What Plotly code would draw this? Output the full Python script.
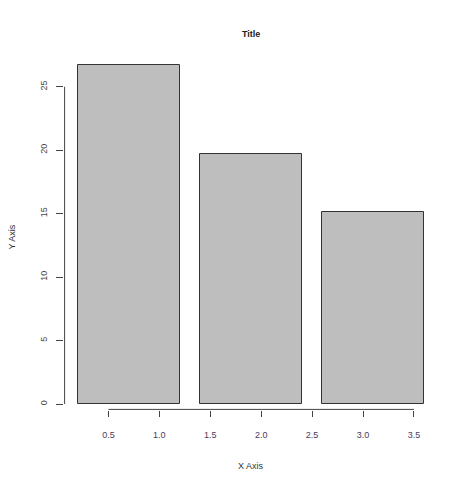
import plotly.graph_objects as go

# ---- data ----
bar_values = [26.7, 19.7, 15.1]
bar_width = 1.0
bar_space = 0.2
x_tick_vals = [0.5, 1.0, 1.5, 2.0, 2.5, 3.0, 3.5]
x_tick_text = ["0.5", "1.0", "1.5", "2.0", "2.5", "3.0", "3.5"]
y_tick_vals = [0, 5, 10, 15, 20, 25]
y_tick_text = ["0", "5", "10", "15", "20", "25"]
title_text = "Title"
x_label = "X Axis"
y_label = "Y Axis"

# bar centers as R's barplot lays them out
centers = [bar_space + bar_width / 2 + i * (bar_width + bar_space) for i in range(len(bar_values))]

# R-style ranges (4% expansion)
x_lo = bar_space
x_hi = centers[-1] + bar_width / 2
dx = 0.04 * (x_hi - x_lo)
x_range = [x_lo - dx, x_hi + dx]

W, H = 474, 490
OFF = 8  # page body margin
L, R, T, B = 63.5, 438.0, 52.0, 410.0   # plot area in window pixels
px_per_unit_y = 12.69
y0_px = 404.0
y_range = [-(B - y0_px) / px_per_unit_y, (y0_px - T) / px_per_unit_y]

font = "Arial, Liberation Sans, sans-serif"
axis_col = "#444444"

fig = go.Figure()
fig.add_trace(go.Bar(
    x=centers, y=bar_values, width=bar_width,
    marker=dict(color="#bebebe", line=dict(color="#333333", width=1)),
    showlegend=False, hoverinfo="skip",
))

# axis lines spanning only first..last tick, like R's axis()
px_x = (x_range[1] - x_range[0]) / (R - L)
px_y = (y_range[1] - y_range[0]) / (B - T)
fig.add_trace(go.Scatter(
    x=[x_tick_vals[0], x_tick_vals[-1]], y=[y_range[0] + 0.6 * px_y] * 2,
    mode="lines", line=dict(color=axis_col, width=1), showlegend=False, hoverinfo="skip",
))
fig.add_trace(go.Scatter(
    x=[x_range[0] + 0.6 * px_x] * 2, y=[y_tick_vals[0], y_tick_vals[-1]],
    mode="lines", line=dict(color=axis_col, width=1), showlegend=False, hoverinfo="skip",
))

FW, FH = W - 2 * OFF, H - 2 * OFF
fig.update_layout(
    width=FW, height=FH,
    margin=dict(l=L - OFF, r=FW - (R - OFF), t=T - OFF, b=FH - (B - OFF), pad=0),
    plot_bgcolor="white", paper_bgcolor="white",
    font=dict(family=font, size=9, color="#333333"),
    bargap=0,
    xaxis=dict(
        range=x_range, showgrid=False, zeroline=False, showline=False,
        tickmode="array", tickvals=x_tick_vals, ticktext=x_tick_text,
        ticks="outside", ticklen=6, tickcolor=axis_col, tickwidth=1,
        tickfont=dict(family=font, size=9, color="#4a3b5c"),
        ticklabelstandoff=10,
    ),
    yaxis=dict(
        range=y_range, showgrid=False, zeroline=False, showline=False,
        tickmode="array", tickvals=y_tick_vals, ticktext=y_tick_text,
        ticks="outside", ticklen=7, tickcolor=axis_col, tickwidth=1,
        tickangle=-90,
        tickfont=dict(family=font, size=9, color="#444444"),
        ticklabelstandoff=5,
    ),
    annotations=[
        dict(text="<b>" + title_text + "</b>", xref="paper", yref="paper",
             x=0.5, y=1, xanchor="center", yanchor="middle", yshift=T - 34,
             showarrow=False, font=dict(family=font, size=9, color="#222222")),
        dict(text=x_label, xref="paper", yref="paper",
             x=0.5, y=0, xanchor="center", yanchor="middle", yshift=-(466 - B),
             showarrow=False, font=dict(family=font, size=9, color="#333333")),
        dict(text=y_label, xref="paper", yref="paper", textangle=-90,
             x=0, y=0.5, xanchor="center", yanchor="middle", xshift=11 - L, yshift=(T + B) / 2 - 237,
             showarrow=False, font=dict(family=font, size=9, color="#333333")),
    ],
)

fig.write_html("out.html")
